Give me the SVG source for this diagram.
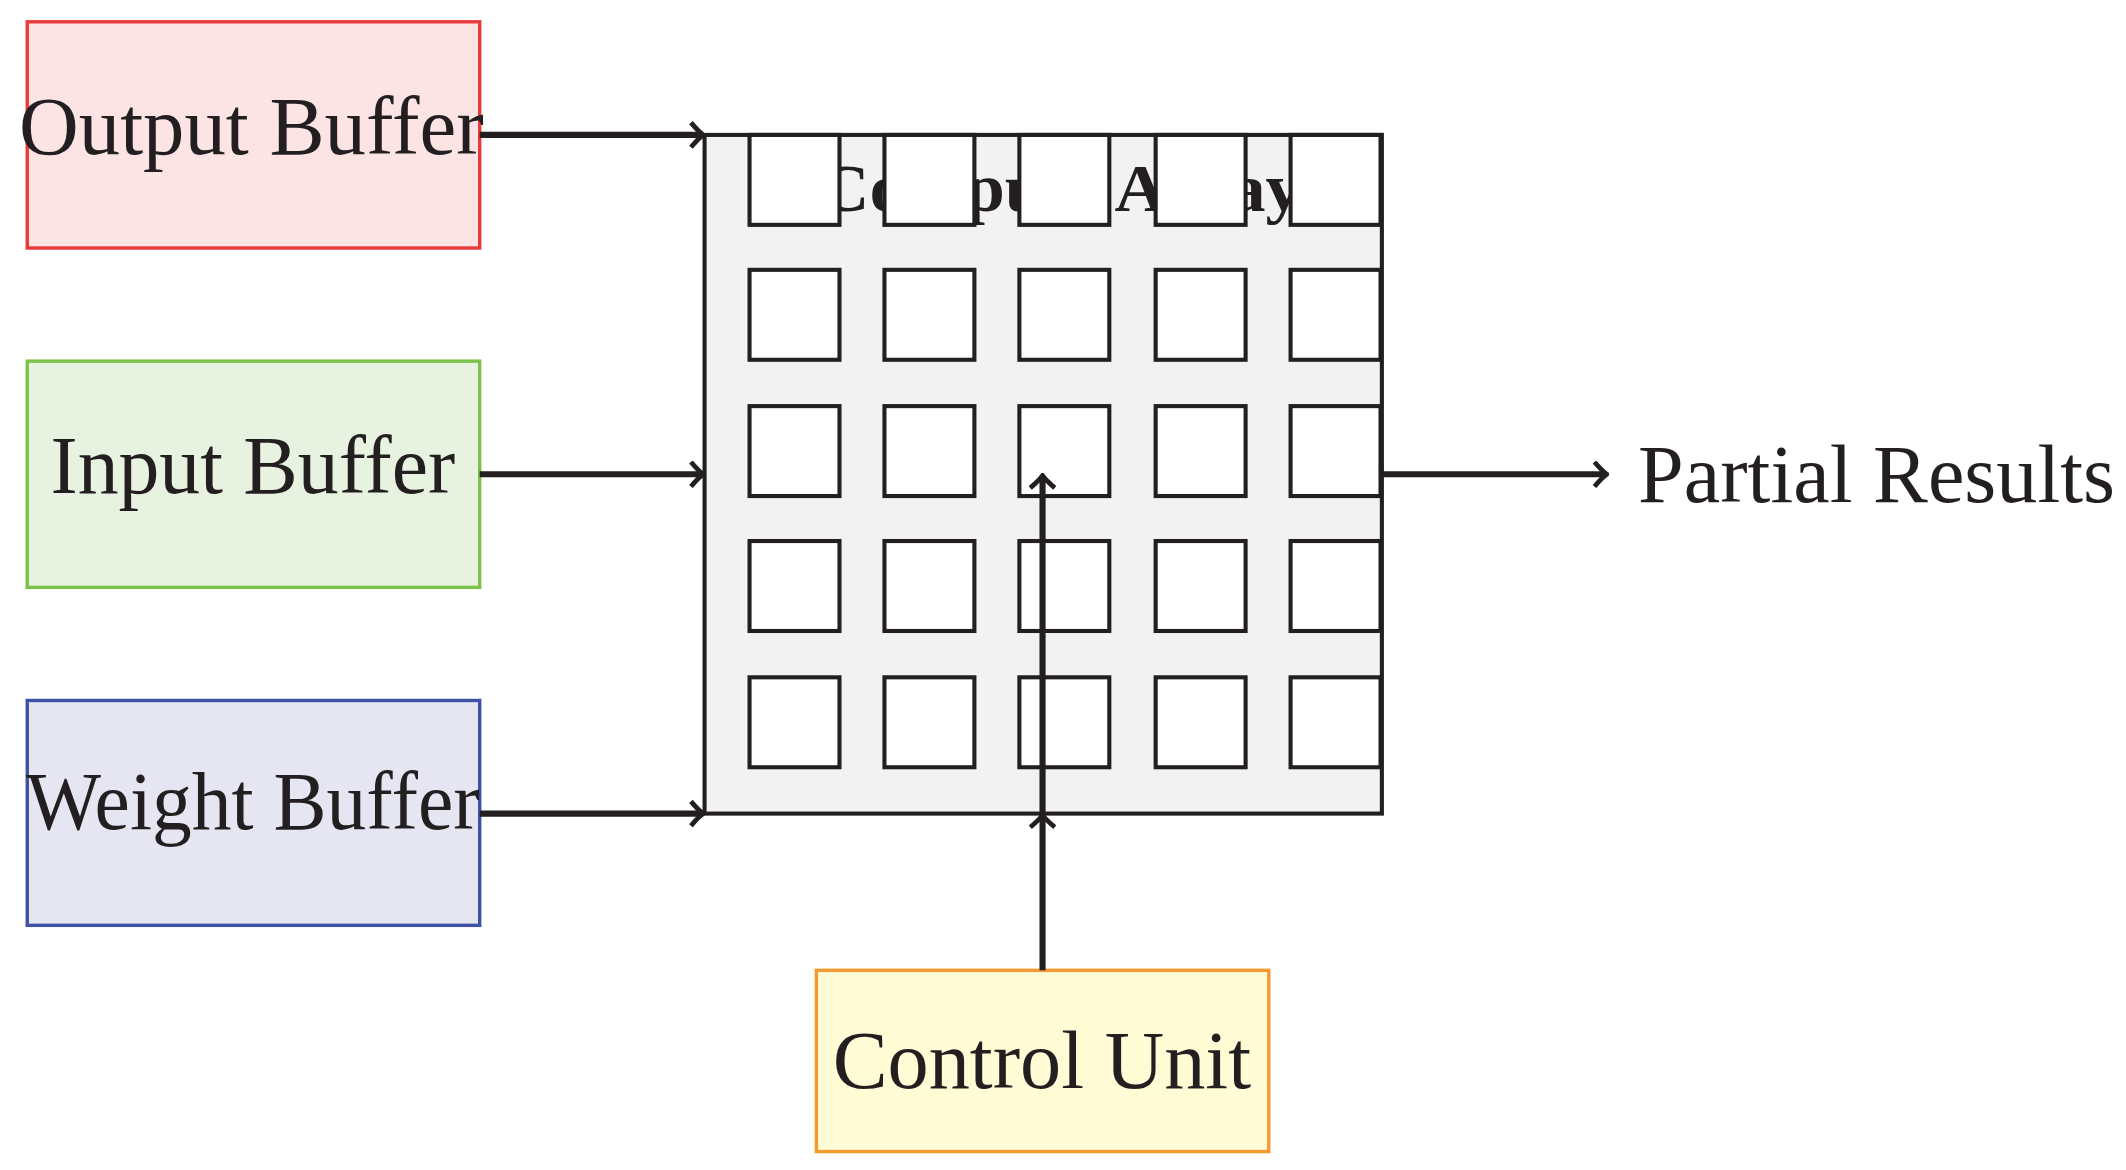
<svg xmlns="http://www.w3.org/2000/svg" width="2126" height="1170" viewBox="0 0 2126 1170">
<style>
.t{font-family:"Liberation Serif","DejaVu Serif",serif;font-size:60px;fill:#231f20}
.c{fill:#fff;stroke:#231f20;stroke-width:3}
.e{stroke:#231f20;stroke-width:4.5;fill:none}
</style>
<defs>
<marker id="ah" viewBox="-12 -10 14 20" refX="0" refY="0" markerWidth="14" markerHeight="20" markerUnits="userSpaceOnUse" orient="auto">
<path d="M-9,-9 Q-3,-2 0,0 Q-3,2 -9,9" fill="none" stroke="#231f20" stroke-width="3.5"/>
</marker>
</defs>
<rect width="2126" height="1170" fill="#fff"/>
<g transform="scale(1.3628)">
<g id="array">
<rect x="517" y="99" width="497" height="498" fill="#f2f2f2" stroke="#231f20" stroke-width="3"/>
<text x="600" y="155" class="t" style="font-weight:bold;font-size:50px" textLength="355" lengthAdjust="spacingAndGlyphs">Compute Array</text>
<g>
<rect class="c" x="550" y="99" width="66" height="66"/><rect class="c" x="649" y="99" width="66" height="66"/><rect class="c" x="748" y="99" width="66" height="66"/><rect class="c" x="848" y="99" width="66" height="66"/><rect class="c" x="947" y="99" width="66" height="66"/>
<rect class="c" x="550" y="198" width="66" height="66"/><rect class="c" x="649" y="198" width="66" height="66"/><rect class="c" x="748" y="198" width="66" height="66"/><rect class="c" x="848" y="198" width="66" height="66"/><rect class="c" x="947" y="198" width="66" height="66"/>
<rect class="c" x="550" y="298" width="66" height="66"/><rect class="c" x="649" y="298" width="66" height="66"/><rect class="c" x="748" y="298" width="66" height="66"/><rect class="c" x="848" y="298" width="66" height="66"/><rect class="c" x="947" y="298" width="66" height="66"/>
<rect class="c" x="550" y="397" width="66" height="66"/><rect class="c" x="649" y="397" width="66" height="66"/><rect class="c" x="748" y="397" width="66" height="66"/><rect class="c" x="848" y="397" width="66" height="66"/><rect class="c" x="947" y="397" width="66" height="66"/>
<rect class="c" x="550" y="497" width="66" height="66"/><rect class="c" x="649" y="497" width="66" height="66"/><rect class="c" x="748" y="497" width="66" height="66"/><rect class="c" x="848" y="497" width="66" height="66"/><rect class="c" x="947" y="497" width="66" height="66"/>
</g>
</g>
<g id="output-buffer"><rect x="20" y="16" width="332" height="166" fill="#fce4e4" stroke="#e83a3a" stroke-width="2.5"/><text class="t" x="14" y="113" textLength="341" lengthAdjust="spacingAndGlyphs">Output Buffer</text></g>
<g id="input-buffer"><rect x="20" y="265" width="332" height="166" fill="#e8f2e0" stroke="#7cc24a" stroke-width="2.5"/><text class="t" x="37" y="362" textLength="297" lengthAdjust="spacingAndGlyphs">Input Buffer</text></g>
<g id="weight-buffer"><rect x="20" y="514" width="332" height="165" fill="#e6e6f2" stroke="#3f51a5" stroke-width="2.5"/><text class="t" x="19" y="608" textLength="333" lengthAdjust="spacingAndGlyphs">Weight Buffer</text></g>
<g id="control-unit"><rect x="599" y="712" width="332" height="133" fill="#fefbd5" stroke="#f59a30" stroke-width="2.5"/><text class="t" x="611" y="798" textLength="307" lengthAdjust="spacingAndGlyphs">Control Unit</text></g>
<g id="partial-results"><text class="t" x="1202" y="368" textLength="350" lengthAdjust="spacingAndGlyphs">Partial Results</text></g>
<g id="connectors">
<path class="e" d="M352,99 H516" marker-end="url(#ah)"/>
<path class="e" d="M352,348 H516" marker-end="url(#ah)"/>
<path class="e" d="M352,597 H516" marker-end="url(#ah)"/>
<path class="e" d="M1014,348 H1179" marker-end="url(#ah)"/>
<path class="e" d="M765,712 V598" marker-end="url(#ah)"/>
<path class="e" d="M765,598 V349" marker-end="url(#ah)"/>
</g>
</g>
</svg>
